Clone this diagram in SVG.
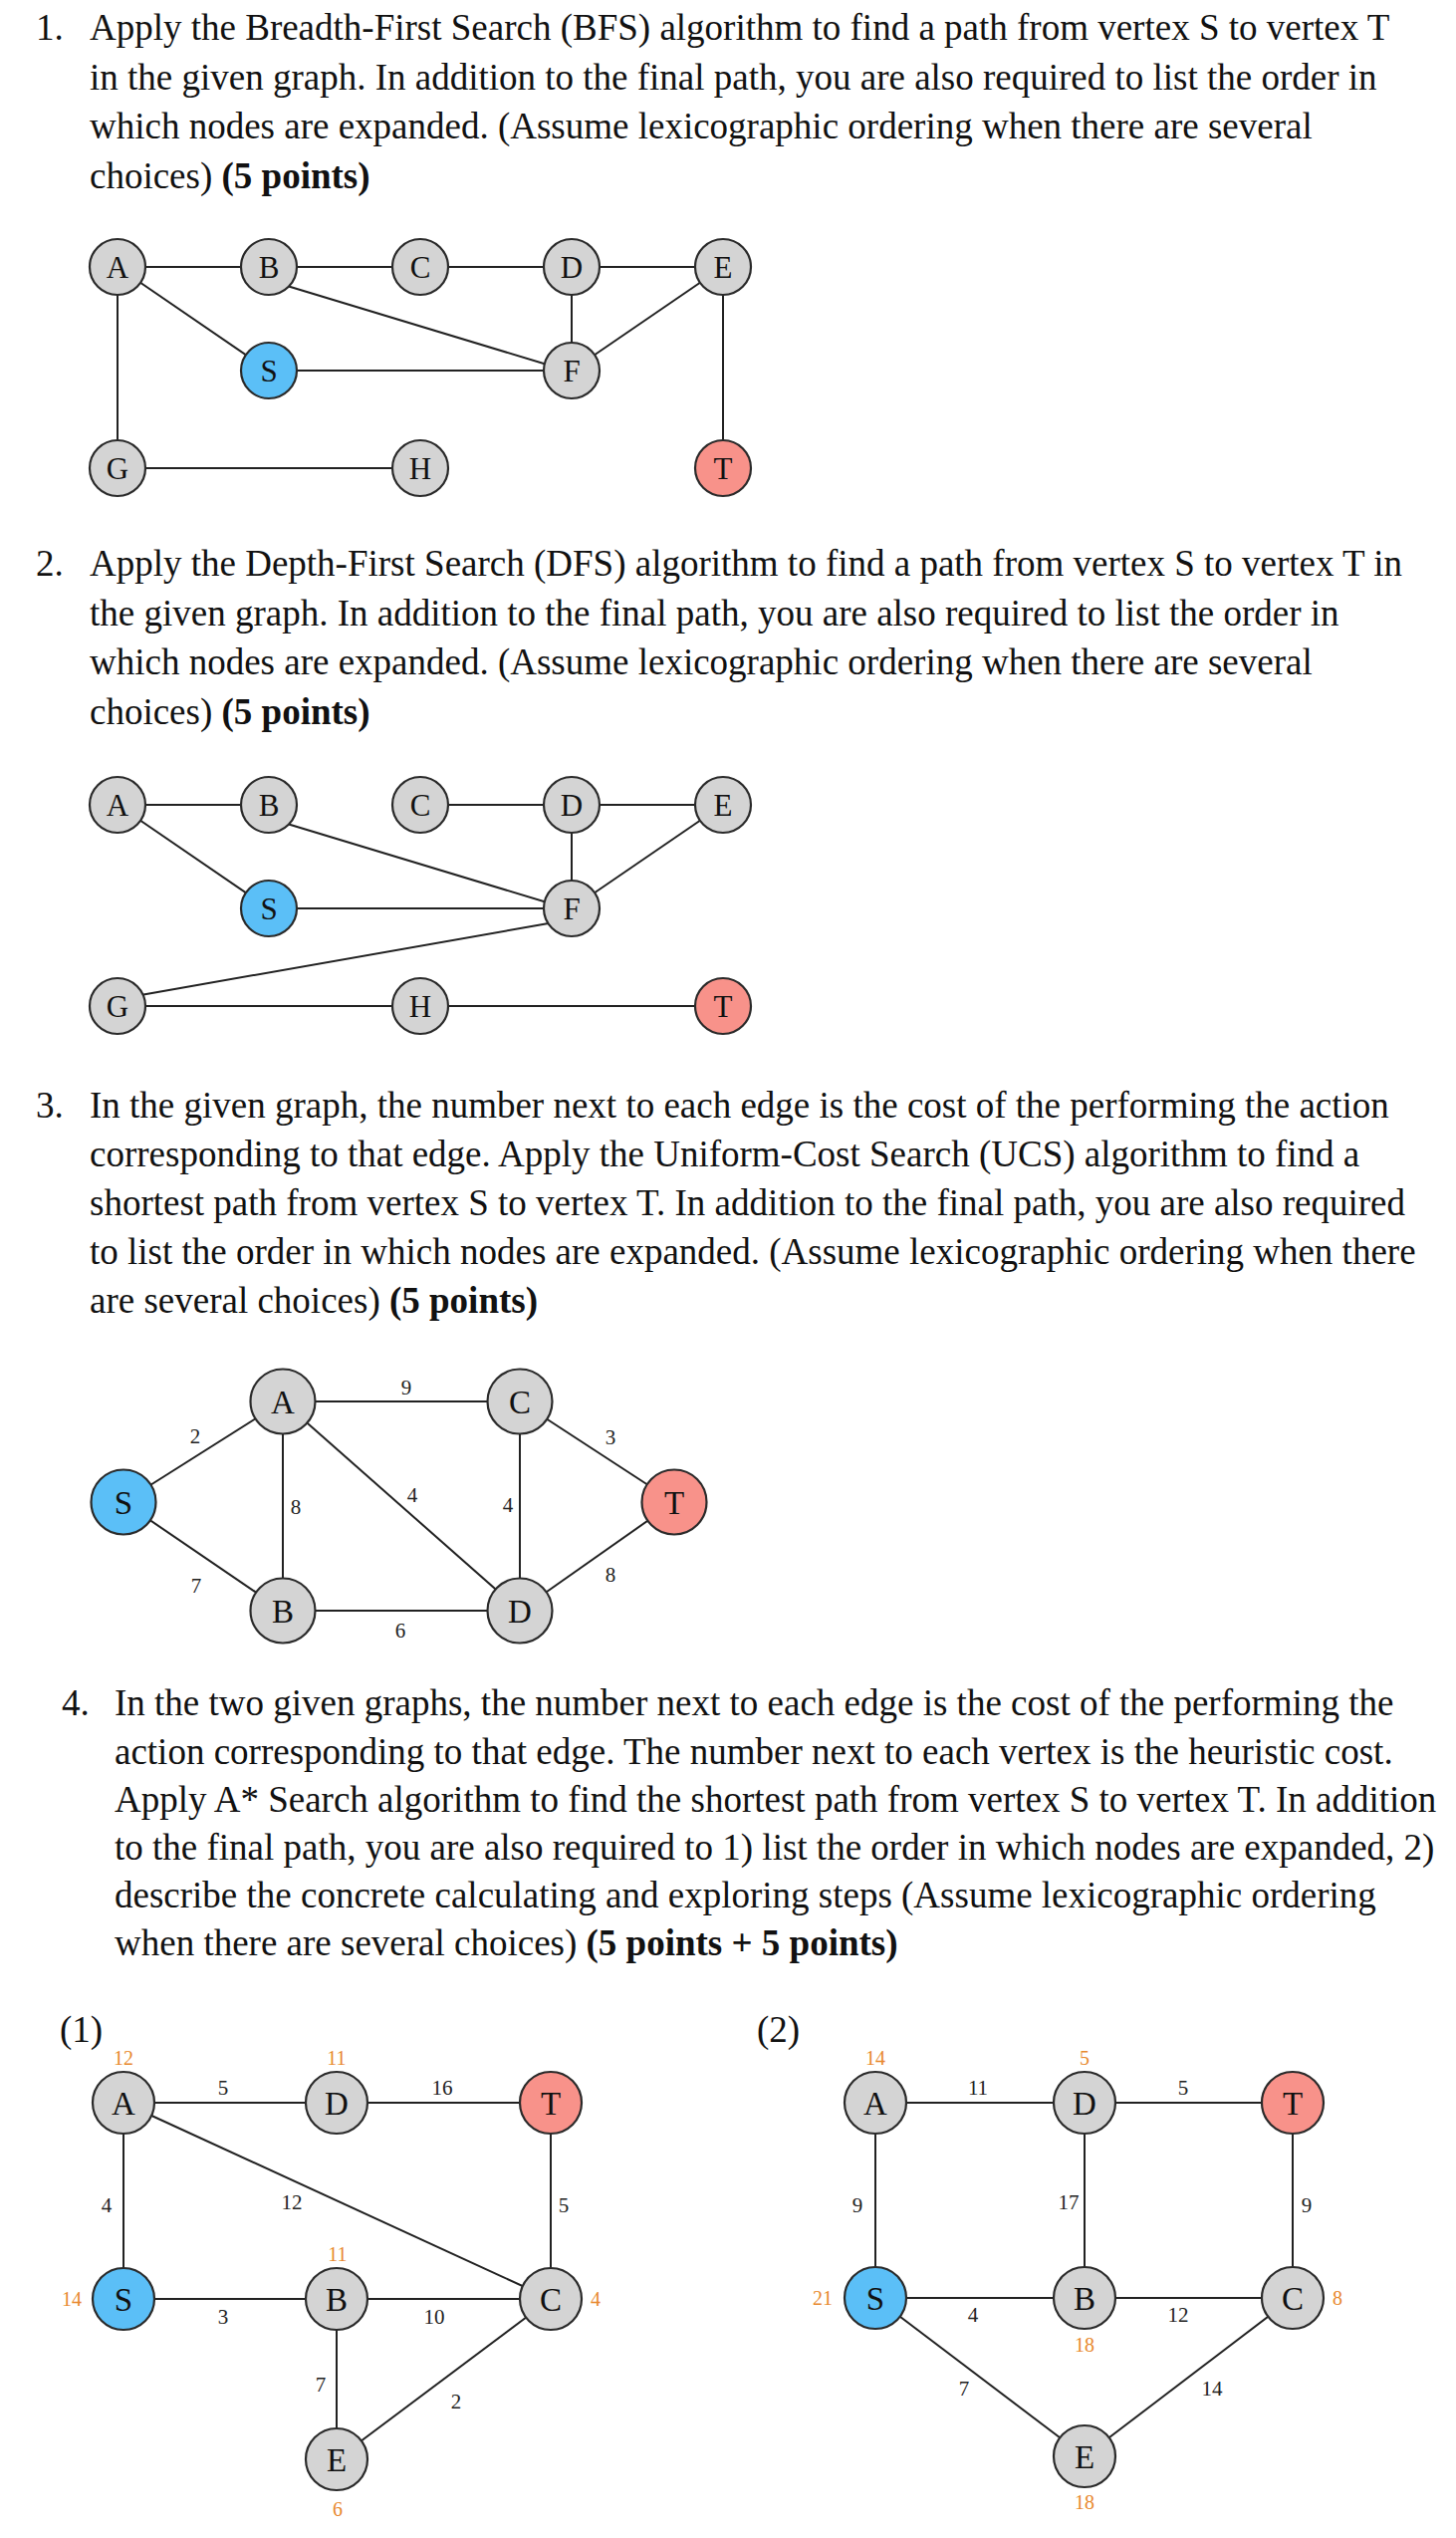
<svg xmlns="http://www.w3.org/2000/svg" width="1462" height="2548" viewBox="0 0 1462 2548">
<style>
.q{font-family:"Liberation Serif","Times New Roman",serif;font-size:37px;fill:#111}
.b{font-weight:bold}
.e{stroke:#222;stroke-width:2;fill:none}
.n{fill:#d4d4d4;stroke:#2a2a2a;stroke-width:2.2}
.s{fill:#5bbff7;stroke:#2a2a2a;stroke-width:2.2}
.t{fill:#f8928a;stroke:#2a2a2a;stroke-width:2.2}
.l{font-family:"Liberation Serif","Times New Roman",serif;text-anchor:middle;fill:#111}
.l1{font-size:31px}
.l3{font-size:33px}
.w{font-family:"Liberation Serif","Times New Roman",serif;text-anchor:middle;fill:#222;font-size:21px}
.h{font-family:"Liberation Serif","Times New Roman",serif;text-anchor:middle;fill:#e8892e;font-size:20px}
</style>
<rect width="1462" height="2548" fill="#fff"/>

<g id="text1">
<text class="q" x="36" y="40">1.</text>
<text class="q" x="90" y="40">Apply the Breadth-First Search (BFS) algorithm to find a path from vertex S to vertex T</text>
<text class="q" x="90" y="89.5">in the given graph. In addition to the final path, you are also required to list the order in</text>
<text class="q" x="90" y="139">which nodes are expanded. (Assume lexicographic ordering when there are several</text>
<text class="q" x="90" y="188.5">choices) <tspan class="b">(5 points)</tspan></text>
</g>

<g id="connectors1">
<line class="e" x1="118" y1="268" x2="726" y2="268"/>
<line class="e" x1="118" y1="268" x2="270" y2="372"/>
<line class="e" x1="118" y1="268" x2="118" y2="470"/>
<line class="e" x1="280" y1="284.5" x2="560" y2="369.3"/>
<line class="e" x1="270" y1="372" x2="574" y2="372"/>
<line class="e" x1="574" y1="268" x2="574" y2="372"/>
<line class="e" x1="726" y1="268" x2="574" y2="372"/>
<line class="e" x1="726" y1="268" x2="726" y2="470"/>
<line class="e" x1="118" y1="470" x2="422" y2="470"/>
</g>
<g id="g1-A"><circle class="n" cx="118" cy="268" r="28"/><text class="l l1" x="118" y="279">A</text></g>
<g id="g1-B"><circle class="n" cx="270" cy="268" r="28"/><text class="l l1" x="270" y="279">B</text></g>
<g id="g1-C"><circle class="n" cx="422" cy="268" r="28"/><text class="l l1" x="422" y="279">C</text></g>
<g id="g1-D"><circle class="n" cx="574" cy="268" r="28"/><text class="l l1" x="574" y="279">D</text></g>
<g id="g1-E"><circle class="n" cx="726" cy="268" r="28"/><text class="l l1" x="726" y="279">E</text></g>
<g id="g1-S"><circle class="s" cx="270" cy="372" r="28"/><text class="l l1" x="270" y="383">S</text></g>
<g id="g1-F"><circle class="n" cx="574" cy="372" r="28"/><text class="l l1" x="574" y="383">F</text></g>
<g id="g1-G"><circle class="n" cx="118" cy="470" r="28"/><text class="l l1" x="118" y="481">G</text></g>
<g id="g1-H"><circle class="n" cx="422" cy="470" r="28"/><text class="l l1" x="422" y="481">H</text></g>
<g id="g1-T"><circle class="t" cx="726" cy="470" r="28"/><text class="l l1" x="726" y="481">T</text></g>

<g id="text2">
<text class="q" x="36" y="578">2.</text>
<text class="q" x="90" y="578">Apply the Depth-First Search (DFS) algorithm to find a path from vertex S to vertex T in</text>
<text class="q" x="90" y="627.5">the given graph. In addition to the final path, you are also required to list the order in</text>
<text class="q" x="90" y="677">which nodes are expanded. (Assume lexicographic ordering when there are several</text>
<text class="q" x="90" y="726.5">choices) <tspan class="b">(5 points)</tspan></text>
</g>

<g id="connectors2">
<line class="e" x1="118" y1="808" x2="270" y2="808"/>
<line class="e" x1="422" y1="808" x2="726" y2="808"/>
<line class="e" x1="118" y1="808" x2="270" y2="912"/>
<line class="e" x1="280" y1="824.5" x2="560" y2="909.3"/>
<line class="e" x1="270" y1="912" x2="574" y2="912"/>
<line class="e" x1="574" y1="808" x2="574" y2="912"/>
<line class="e" x1="726" y1="808" x2="574" y2="912"/>
<line class="e" x1="130" y1="1001" x2="565" y2="924.5"/>
<line class="e" x1="118" y1="1010" x2="726" y2="1010"/>
</g>
<g id="g2-A"><circle class="n" cx="118" cy="808" r="28"/><text class="l l1" x="118" y="819">A</text></g>
<g id="g2-B"><circle class="n" cx="270" cy="808" r="28"/><text class="l l1" x="270" y="819">B</text></g>
<g id="g2-C"><circle class="n" cx="422" cy="808" r="28"/><text class="l l1" x="422" y="819">C</text></g>
<g id="g2-D"><circle class="n" cx="574" cy="808" r="28"/><text class="l l1" x="574" y="819">D</text></g>
<g id="g2-E"><circle class="n" cx="726" cy="808" r="28"/><text class="l l1" x="726" y="819">E</text></g>
<g id="g2-S"><circle class="s" cx="270" cy="912" r="28"/><text class="l l1" x="270" y="923">S</text></g>
<g id="g2-F"><circle class="n" cx="574" cy="912" r="28"/><text class="l l1" x="574" y="923">F</text></g>
<g id="g2-G"><circle class="n" cx="118" cy="1010" r="28"/><text class="l l1" x="118" y="1021">G</text></g>
<g id="g2-H"><circle class="n" cx="422" cy="1010" r="28"/><text class="l l1" x="422" y="1021">H</text></g>
<g id="g2-T"><circle class="t" cx="726" cy="1010" r="28"/><text class="l l1" x="726" y="1021">T</text></g>

<g id="text3">
<text class="q" x="36" y="1122">3.</text>
<text class="q" x="90" y="1122">In the given graph, the number next to each edge is the cost of the performing the action</text>
<text class="q" x="90" y="1171">corresponding to that edge. Apply the Uniform-Cost Search (UCS) algorithm to find a</text>
<text class="q" x="90" y="1220">shortest path from vertex S to vertex T. In addition to the final path, you are also required</text>
<text class="q" x="90" y="1269">to list the order in which nodes are expanded. (Assume lexicographic ordering when there</text>
<text class="q" x="90" y="1318">are several choices) <tspan class="b">(5 points)</tspan></text>
</g>

<g id="connectors3">
<line class="e" x1="124" y1="1508" x2="284" y2="1407"/>
<line class="e" x1="124" y1="1508" x2="284" y2="1617"/>
<line class="e" x1="284" y1="1407" x2="522" y2="1407"/>
<line class="e" x1="284" y1="1407" x2="284" y2="1617"/>
<line class="e" x1="284" y1="1407" x2="522" y2="1617"/>
<line class="e" x1="522" y1="1407" x2="522" y2="1617"/>
<line class="e" x1="522" y1="1407" x2="677" y2="1508"/>
<line class="e" x1="284" y1="1617" x2="522" y2="1617"/>
<line class="e" x1="522" y1="1617" x2="677" y2="1508"/>
<text class="w" x="196" y="1448.5">2</text>
<text class="w" x="197" y="1598.5">7</text>
<text class="w" x="408" y="1399.5">9</text>
<text class="w" x="297" y="1519.5">8</text>
<text class="w" x="414" y="1507.5">4</text>
<text class="w" x="510" y="1517.5">4</text>
<text class="w" x="613" y="1449.5">3</text>
<text class="w" x="613" y="1587.5">8</text>
<text class="w" x="402" y="1643.5">6</text>
</g>
<g id="g3-S"><circle class="s" cx="124" cy="1508" r="32.5"/><text class="l l3" x="124" y="1519.5">S</text></g>
<g id="g3-A"><circle class="n" cx="284" cy="1407" r="32.5"/><text class="l l3" x="284" y="1418.5">A</text></g>
<g id="g3-C"><circle class="n" cx="522" cy="1407" r="32.5"/><text class="l l3" x="522" y="1418.5">C</text></g>
<g id="g3-B"><circle class="n" cx="284" cy="1617" r="32.5"/><text class="l l3" x="284" y="1628.5">B</text></g>
<g id="g3-D"><circle class="n" cx="522" cy="1617" r="32.5"/><text class="l l3" x="522" y="1628.5">D</text></g>
<g id="g3-T"><circle class="t" cx="677" cy="1508" r="32.5"/><text class="l l3" x="677" y="1519.5">T</text></g>

<g id="text4">
<text class="q" x="62" y="1722">4.</text>
<text class="q" x="115" y="1722">In the two given graphs, the number next to each edge is the cost of the performing the</text>
<text class="q" x="115" y="1770.5">action corresponding to that edge. The number next to each vertex is the heuristic cost.</text>
<text class="q" x="115" y="1819">Apply A* Search algorithm to find the shortest path from vertex S to vertex T. In addition</text>
<text class="q" x="115" y="1867">to the final path, you are also required to 1) list the order in which nodes are expanded, 2)</text>
<text class="q" x="115" y="1915">describe the concrete calculating and exploring steps (Assume lexicographic ordering</text>
<text class="q" x="115" y="1963">when there are several choices) <tspan class="b">(5 points + 5 points)</tspan></text>
<text class="q" x="60" y="2050">(1)</text>
<text class="q" x="760" y="2050">(2)</text>
</g>

<g id="connectors4a">
<line class="e" x1="124" y1="2111" x2="553" y2="2111"/>
<line class="e" x1="124" y1="2111" x2="124" y2="2308"/>
<line class="e" x1="124" y1="2111" x2="553" y2="2308"/>
<line class="e" x1="553" y1="2111" x2="553" y2="2308"/>
<line class="e" x1="124" y1="2308" x2="553" y2="2308"/>
<line class="e" x1="338" y1="2308" x2="338" y2="2469"/>
<line class="e" x1="553" y1="2308" x2="338" y2="2469"/>
<text class="w" x="224" y="2103">5</text>
<text class="w" x="444" y="2103">16</text>
<text class="w" x="107" y="2221">4</text>
<text class="w" x="293" y="2218">12</text>
<text class="w" x="566" y="2221">5</text>
<text class="w" x="224" y="2333">3</text>
<text class="w" x="436" y="2333">10</text>
<text class="w" x="322" y="2401">7</text>
<text class="w" x="458" y="2418">2</text>
</g>
<g id="g4a-A"><circle class="n" cx="124" cy="2111" r="31"/><text class="l l3" x="124" y="2122.5">A</text><text class="h" x="124" y="2073">12</text></g>
<g id="g4a-D"><circle class="n" cx="338" cy="2111" r="31"/><text class="l l3" x="338" y="2122.5">D</text><text class="h" x="338" y="2073">11</text></g>
<g id="g4a-T"><circle class="t" cx="553" cy="2111" r="31"/><text class="l l3" x="553" y="2122.5">T</text></g>
<g id="g4a-S"><circle class="s" cx="124" cy="2308" r="31"/><text class="l l3" x="124" y="2319.5">S</text><text class="h" x="72" y="2315">14</text></g>
<g id="g4a-B"><circle class="n" cx="338" cy="2308" r="31"/><text class="l l3" x="338" y="2319.5">B</text><text class="h" x="339" y="2270">11</text></g>
<g id="g4a-C"><circle class="n" cx="553" cy="2308" r="31"/><text class="l l3" x="553" y="2319.5">C</text><text class="h" x="598" y="2315">4</text></g>
<g id="g4a-E"><circle class="n" cx="338" cy="2469" r="31"/><text class="l l3" x="338" y="2480.5">E</text><text class="h" x="339" y="2526">6</text></g>

<g id="connectors4b">
<line class="e" x1="879" y1="2111" x2="1298" y2="2111"/>
<line class="e" x1="879" y1="2111" x2="879" y2="2307"/>
<line class="e" x1="1089" y1="2111" x2="1089" y2="2307"/>
<line class="e" x1="1298" y1="2111" x2="1298" y2="2307"/>
<line class="e" x1="879" y1="2307" x2="1298" y2="2307"/>
<line class="e" x1="879" y1="2307" x2="1089" y2="2466"/>
<line class="e" x1="1298" y1="2307" x2="1089" y2="2466"/>
<text class="w" x="982" y="2103">11</text>
<text class="w" x="1188" y="2103">5</text>
<text class="w" x="861" y="2221">9</text>
<text class="w" x="1073" y="2218">17</text>
<text class="w" x="1312" y="2221">9</text>
<text class="w" x="977" y="2331">4</text>
<text class="w" x="1183" y="2331">12</text>
<text class="w" x="968" y="2405">7</text>
<text class="w" x="1217" y="2405">14</text>
</g>
<g id="g4b-A"><circle class="n" cx="879" cy="2111" r="31"/><text class="l l3" x="879" y="2122.5">A</text><text class="h" x="879" y="2073">14</text></g>
<g id="g4b-D"><circle class="n" cx="1089" cy="2111" r="31"/><text class="l l3" x="1089" y="2122.5">D</text><text class="h" x="1089" y="2073">5</text></g>
<g id="g4b-T"><circle class="t" cx="1298" cy="2111" r="31"/><text class="l l3" x="1298" y="2122.5">T</text></g>
<g id="g4b-S"><circle class="s" cx="879" cy="2307" r="31"/><text class="l l3" x="879" y="2318.5">S</text><text class="h" x="826" y="2314">21</text></g>
<g id="g4b-B"><circle class="n" cx="1089" cy="2307" r="31"/><text class="l l3" x="1089" y="2318.5">B</text><text class="h" x="1089" y="2361">18</text></g>
<g id="g4b-C"><circle class="n" cx="1298" cy="2307" r="31"/><text class="l l3" x="1298" y="2318.5">C</text><text class="h" x="1343" y="2314">8</text></g>
<g id="g4b-E"><circle class="n" cx="1089" cy="2466" r="31"/><text class="l l3" x="1089" y="2477.5">E</text><text class="h" x="1089" y="2519">18</text></g>
</svg>
